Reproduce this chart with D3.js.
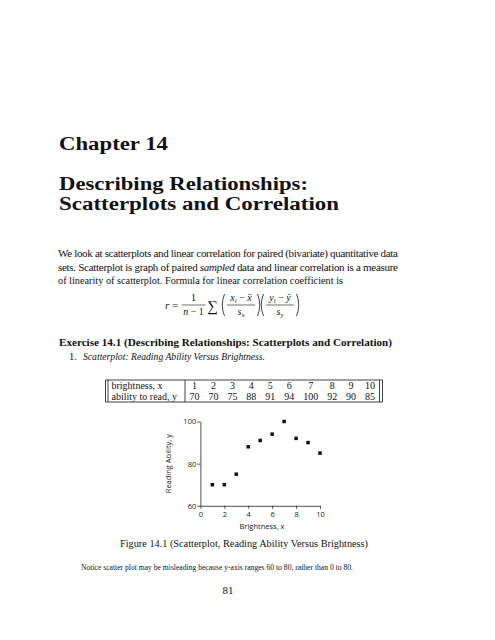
<!DOCTYPE html>
<html>
    <head>
        <meta charset="utf-8">
        <title>Scatterplot, Reading Ability Versus Brightness</title>
        <style>
            body { margin: 0; background: #fff; }
            svg { display: block; }
            .serif { font-family: "Liberation Serif", "DejaVu Serif", serif; fill: #111; }
            .axis text { font-family: "Open Sans", "Noto Sans", sans-serif; font-size: 7.5px; fill: #222; }
            .axis path, .axis line { stroke: #222; stroke-width: 0.8; }
            .axis-title { font-family: "Open Sans", "Noto Sans", sans-serif; font-size: 7.5px; fill: #222; }
        </style>
    </head>
    <body>
        <svg width="495" height="640"></svg>

        <script src="https://d3js.org/d3.v7.min.js"></script>
        <script>
            // data
            var brightness = [1, 2, 3, 4, 5, 6, 7, 8, 9, 10];
            var ability = [70, 70, 75, 88, 91, 94, 100, 92, 90, 85];
            var xTicks = [0, 2, 4, 6, 8, 10];
            var yTicks = [60, 80, 100];
            var rowLabels = ["brightness, x", "ability to read, y"];

            var svg = d3.select("svg");
            svg.append("rect").attr("width", 495).attr("height", 640).attr("fill", "#fff");

            // helper for a line of text, optionally squeezed to a width
            function line(x, y, str, size, opts) {
                opts = opts || {};
                var t = svg.append("text")
                    .attr("class", "serif")
                    .attr("x", x)
                    .attr("y", y)
                    .style("font-size", size + "px")
                    .style("font-weight", opts.bold ? "bold" : null)
                    .style("font-style", opts.italic ? "italic" : null)
                    .attr("text-anchor", opts.anchor || "start");
                if (Array.isArray(str)) {
                    str.forEach(function(s) {
                        t.append("tspan").style("font-style", s.italic ? "italic" : null).text(s.t);
                    });
                } else {
                    t.text(str);
                }
                if (opts.width) {
                    t.attr("textLength", opts.width).attr("lengthAdjust", opts.adjust || "spacingAndGlyphs");
                }
                return t;
            }

            // headings
            line(59, 150, "Chapter 14", 18, {bold: true, width: 109});
            line(59, 190, "Describing Relationships:", 18, {bold: true, width: 249});
            line(59, 210, "Scatterplots and Correlation", 18, {bold: true, width: 280});

            // paragraph
            line(58, 257, "We look at scatterplots and linear correlation for paired (bivariate) quantitative data", 11, {width: 340, adjust: "spacing"});
            line(58, 270.5, [{t: "sets. Scatterplot is graph of paired "}, {t: "sampled", italic: true}, {t: " data and linear correlation is a measure"}], 11, {width: 340, adjust: "spacing"});
            line(58, 284, "of linearity of scatterplot. Formula for linear correlation coefficient is", 11, {width: 285});

            // formula
            var f = svg.append("g").attr("class", "serif").style("font-size", "11px");
            f.append("text").attr("x", 165).attr("y", 308.5).style("font-style", "italic").text("r");
            f.append("text").attr("x", 172).attr("y", 308.5).text("=");
            function frac(cx, num, den, w) {
                var a = f.append("text").attr("x", cx).attr("y", 301).attr("text-anchor", "middle").style("font-size", "10px");
                num.forEach(function(s) { a.append("tspan").style("font-style", s.i ? "italic" : null).attr("font-size", s.sub ? "7px" : null).attr("dy", s.dy || 0).text(s.t); });
                f.append("line").attr("x1", cx - w / 2).attr("x2", cx + w / 2).attr("y1", 305).attr("y2", 305)
                    .attr("stroke", "#111").attr("stroke-width", 0.6);
                var b = f.append("text").attr("x", cx).attr("y", 315).attr("text-anchor", "middle").style("font-size", "10px");
                den.forEach(function(s) { b.append("tspan").style("font-style", s.i ? "italic" : null).attr("font-size", s.sub ? "7px" : null).attr("dy", s.dy || 0).text(s.t); });
            }
            function paren(x, dir) {
                f.append("path")
                    .attr("d", "M" + x + ",294 Q" + (x - 4.5 * dir) + ",305 " + x + ",316")
                    .attr("fill", "none").attr("stroke", "#111").attr("stroke-width", 0.8);
            }
            frac(193.5, [{t: "1"}], [{t: "n", i: true}, {t: " \u2212 1"}], 24);
            f.append("text").attr("x", 207).attr("y", 310.5).style("font-size", "15px").text("\u2211");
            paren(224.5, 1);
            frac(241, [{t: "x", i: true}, {t: "i", i: true, sub: true, dy: 2}, {t: " \u2212 ", dy: -2}, {t: "x\u0304", i: true}],
                [{t: "s", i: true}, {t: "x", i: true, sub: true, dy: 2}], 28);
            paren(257.5, -1);
            paren(263.5, 1);
            frac(280, [{t: "y", i: true}, {t: "i", i: true, sub: true, dy: 2}, {t: " \u2212 ", dy: -2}, {t: "y\u0304", i: true}],
                [{t: "s", i: true}, {t: "y", i: true, sub: true, dy: 2}], 28);
            paren(296.5, -1);

            // exercise heading and item
            line(59, 346, "Exercise 14.1 (Describing Relationships: Scatterplots and Correlation)", 11, {bold: true, width: 333});
            line(69, 360, "1.", 10.5);
            line(83, 360, "Scatterplot: Reading Ability Versus Brightness.", 10.5, {italic: true, width: 182});

            // table
            var tbl = {left: 105.5, sep: 185, right: 382.5, top: 380, bottom: 402};
            var tg = svg.append("g");
            var measure = svg.append("text").attr("class", "serif").style("font-size", "10px");
            var colW = brightness.map(function(b, i) {
                var w1 = measure.text(b).node().getComputedTextLength();
                var w2 = measure.text(ability[i]).node().getComputedTextLength();
                return Math.max(w1, w2);
            });
            measure.remove();
            var inner = (tbl.right - 3) - tbl.sep;
            var pad = (inner - d3.sum(colW)) / (2 * colW.length);
            var cx = [], acc = tbl.sep;
            colW.forEach(function(w) { cx.push(acc + pad + w / 2); acc += w + 2 * pad; });

            [[tbl.left, tbl.right], [tbl.left, tbl.right]].forEach(function(d, i) {
                var y = i ? tbl.bottom : tbl.top;
                tg.append("line").attr("x1", d[0]).attr("x2", d[1]).attr("y1", y).attr("y2", y);
            });
            [tbl.left, tbl.left + 2.5, tbl.sep, tbl.right - 3, tbl.right].forEach(function(x) {
                tg.append("line").attr("x1", x).attr("x2", x).attr("y1", tbl.top).attr("y2", tbl.bottom);
            });
            tg.selectAll("line").attr("stroke", "#111").attr("stroke-width", 0.8);

            var rowY = [389, 399.5];
            rowLabels.forEach(function(l, r) {
                tg.append("text").attr("class", "serif").attr("x", 111.5).attr("y", rowY[r])
                    .style("font-size", "10px").text(l);
            });
            tg.selectAll(".top").data(brightness).enter().append("text")
                .attr("class", "serif").attr("text-anchor", "middle")
                .attr("x", function(d, i) { return cx[i]; }).attr("y", rowY[0])
                .style("font-size", "10px").text(function(d) { return d; });
            tg.selectAll(".bot").data(ability).enter().append("text")
                .attr("class", "serif").attr("text-anchor", "middle")
                .attr("x", function(d, i) { return cx[i]; }).attr("y", rowY[1])
                .style("font-size", "10px").text(function(d) { return d; });

            // scatterplot
            var x = d3.scaleLinear().domain([0, 10]).range([200.4, 320]);
            var y = d3.scaleLinear().domain([60, 100]).range([505.8, 421.5]);
            var chart = svg.append("g");

            chart.append("g")
                .attr("class", "axis")
                .attr("transform", "translate(0," + y(60) + ")")
                .call(d3.axisBottom(x).tickValues(xTicks).tickSize(3).tickSizeOuter(0).tickPadding(2.5))
                .call(function(g) { g.attr("font-family", null).attr("font-size", null); });

            chart.append("g")
                .attr("class", "axis")
                .attr("transform", "translate(" + x(0) + ",0)")
                .call(d3.axisLeft(y).tickValues(yTicks).tickSize(3).tickSizeOuter(0).tickPadding(1.2))
                .call(function(g) { g.attr("font-family", null).attr("font-size", null); });

            chart.selectAll(".pt")
                .data(brightness)
                .enter()
                .append("rect")
                .attr("class", "pt")
                .attr("x", function(d) { return x(d) - 1.75; })
                .attr("y", function(d, i) { return y(ability[i]) - 1.75; })
                .attr("width", 3.5)
                .attr("height", 3.5)
                .attr("fill", "#111");

            chart.append("text")
                .attr("class", "axis-title")
                .attr("text-anchor", "middle")
                .attr("x", 262)
                .attr("y", 529)
                .text("Brightness, x");

            chart.append("text")
                .attr("class", "axis-title")
                .attr("text-anchor", "middle")
                .attr("transform", "translate(171," + y(80) + ") rotate(-90)")
                .text("Reading Ability, y");

            // caption, note, page number
            line(244, 547, "Figure 14.1 (Scatterplot, Reading Ability Versus Brightness)", 11, {anchor: "middle", width: 248});
            line(81, 570, "Notice scatter plot may be misleading because y-axis ranges 60 to 80, rather than 0 to 80.", 7.2, {width: 272});
            line(228, 594, "81", 11, {anchor: "middle"});
        </script>
    </body>
</html>
